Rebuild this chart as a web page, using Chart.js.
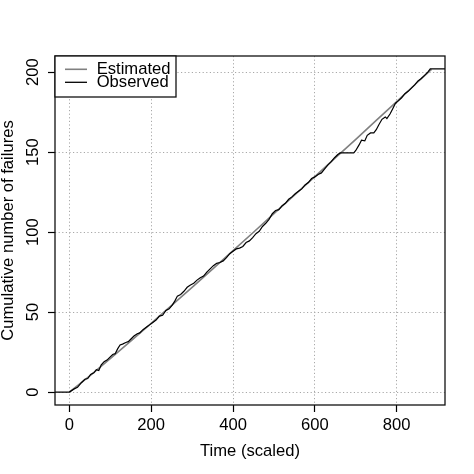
<!DOCTYPE html>
<html><head><meta charset="utf-8">
<script src="https://cdn.jsdelivr.net/npm/chart.js@4.4.1/dist/chart.umd.min.js"></script>
<style>html,body{margin:0;padding:0;background:#fff;}#wrap{width:474px;height:474px;}</style>
</head><body><div id="wrap"><canvas id="c" width="474" height="474"></canvas></div>
<script>
const xTickValues = [0, 200, 400, 600, 800];
const yTickValues = [0, 50, 100, 150, 200];
const legendLabels = ['Estimated', 'Observed'];
const xTitle = 'Time (scaled)';
const yTitle = 'Cumulative number of failures';

const estTime  = [0, 50, 100, 150, 200, 250, 300, 350, 400, 450, 500, 550, 600, 650, 700, 750, 800, 850, 885];
const estCount = [0, 10.2, 20.9, 31.9, 43, 54.2, 65.5, 76.9, 88.4, 99.9, 111.5, 123.1, 134.7, 146.4, 158, 169.8, 181.6, 193.5, 201.7];

const obsTime = [-40, 0, 12, 20, 30, 38, 45, 52, 60, 66,
  72, 78, 85, 92, 100, 106, 112, 118, 124, 130,
  138, 144, 150, 158, 166, 172, 180, 188, 196, 204,
  212, 220, 228, 236, 244, 252, 258, 264, 272, 280,
  288, 296, 304, 312, 320, 328, 336, 344, 352, 360,
  368, 376, 384, 392, 400, 408, 416, 424, 432, 440,
  448, 456, 464, 472, 480, 488, 496, 504, 512, 520,
  528, 536, 544, 552, 560, 568, 576, 584, 592, 600,
  608, 616, 624, 632, 640, 648, 656, 662, 695, 700,
  708, 714, 722, 728, 736, 744, 750, 756, 764, 772,
  776, 784, 790, 797, 804, 812, 820, 828, 836, 844,
  852, 860, 868, 876, 882, 940];
const obsCount = [0, 0, 2, 3, 6, 8, 8.5, 11, 12, 14,
  13.5, 17, 19, 20, 22, 23.5, 24, 27, 29.5, 30,
  31, 31.5, 33, 35, 36.5, 37, 39, 40.5, 42, 43.5,
  45, 47.5, 48, 51, 52, 54.5, 57, 60, 61, 63,
  65.5, 67, 68, 70, 71.5, 72.5, 75, 77, 79, 80.5,
  81, 82, 84, 86.5, 88, 89.5, 90, 91, 93.5, 94.5,
  96.5, 99, 100.5, 103.5, 105.5, 108, 111.5, 113.5, 114, 116.5,
  118, 120.5, 122, 124, 125.5, 127, 129.5, 131, 133.5, 134.5,
  136, 137, 139.5, 142, 144, 146.5, 148.5, 149.5, 149.5, 151,
  154.5, 157.5, 157, 160.5, 162, 162, 164, 167, 170.5, 172,
  171, 174, 177, 180.6, 182, 184, 186.5, 188, 190, 192,
  194.5, 196, 198, 200, 202, 202];

const FONT = '"Liberation Sans", Arial, Helvetica, sans-serif';
const FS = 16.6;
const EST_COLOR = '#808080';
const OBS_COLOR = '#000000';
const toPts = (xs, ys) => xs.map((x, i) => ({x: x, y: ys[i]}));

const framePlugin = {
  id: 'frame',
  afterDatasetsDraw(chart) {
    const ctx = chart.ctx, ca = chart.chartArea;
    ctx.save();
    ctx.strokeStyle = '#111';
    ctx.lineWidth = 1.3;
    ctx.strokeRect(ca.left, ca.top, ca.right - ca.left, ca.bottom - ca.top);
    ctx.restore();
  },
  afterDraw(chart) {
    const ctx = chart.ctx, ca = chart.chartArea, ys = chart.scales.y;
    ctx.save();
    ctx.font = FS + 'px ' + FONT;
    ctx.fillStyle = '#000';
    ctx.textAlign = 'center';
    ctx.textBaseline = 'middle';
    yTickValues.forEach(v => {
      const py = ys.getPixelForValue(v);
      ctx.save();
      ctx.translate(ca.left - 22, py);
      ctx.rotate(-Math.PI / 2);
      ctx.fillText(String(v), 0, 0);
      ctx.restore();
    });
    // legend
    const lx = ca.left, ly = ca.top, lw = 121, lh = 41;
    ctx.fillStyle = '#fff';
    ctx.fillRect(lx, ly, lw, lh);
    ctx.strokeStyle = '#111';
    ctx.lineWidth = 1.3;
    ctx.strokeRect(lx, ly, lw, lh);
    const colors = [EST_COLOR, OBS_COLOR];
    const widths = [1.6, 1.3];
    legendLabels.forEach((lab, i) => {
      const yy = ly + 13.3 + i * 13;
      ctx.strokeStyle = colors[i];
      ctx.lineWidth = widths[i];
      ctx.beginPath();
      ctx.moveTo(lx + 10, yy);
      ctx.lineTo(lx + 32, yy);
      ctx.stroke();
      ctx.fillStyle = '#000';
      ctx.textAlign = 'left';
      ctx.fillText(lab, lx + 41.7, yy);
    });
    ctx.restore();
  }
};

const gridOpts = {
  color: '#a8a8a8', lineWidth: 1, drawTicks: true, tickLength: 7,
  tickColor: '#000', tickWidth: 1.2, tickBorderDash: []
};

new Chart(document.getElementById('c'), {
  type: 'line',
  data: {
    datasets: [
      {label: legendLabels[1], data: toPts(obsTime, obsCount), borderColor: OBS_COLOR, borderWidth: 1.2,
       pointRadius: 0, tension: 0, fill: false, order: 0},
      {label: legendLabels[0], data: toPts(estTime, estCount), borderColor: EST_COLOR, borderWidth: 1.6,
       pointRadius: 0, tension: 0, fill: false, order: 1}
    ]
  },
  options: {
    responsive: false,
    animation: false,
    events: [],
    layout: {padding: {top: 56, right: 29, bottom: 0, left: 0}},
    plugins: {legend: {display: false}, tooltip: {enabled: false}},
    scales: {
      x: {
        type: 'linear', min: -35, max: 918,
        afterBuildTicks(s) { s.ticks = xTickValues.map(v => ({value: v})); },
        afterFit(s) { s.height = 69; },
        grid: gridOpts,
        border: {display: false, dash: [1.2, 2.4]},
        ticks: {color: '#000', font: {family: FONT, size: FS}, padding: 3, maxRotation: 0, minRotation: 0, autoSkip: false},
        title: {display: true, text: xTitle, color: '#000', font: {family: FONT, size: FS, lineHeight: 1}, padding: {top: 0, bottom: 14}}
      },
      y: {
        type: 'linear', min: -8.08, max: 210.08,
        afterBuildTicks(s) { s.ticks = yTickValues.map(v => ({value: v})); },
        afterFit(s) { s.width = 55; },
        grid: gridOpts,
        border: {display: false, dash: [1.2, 2.4]},
        ticks: {display: false},
        title: {display: true, text: yTitle, color: '#000', font: {family: FONT, size: FS, lineHeight: 1}, padding: {top: 0, bottom: 0}}
      }
    }
  },
  plugins: [framePlugin]
});
</script>
</body></html>
